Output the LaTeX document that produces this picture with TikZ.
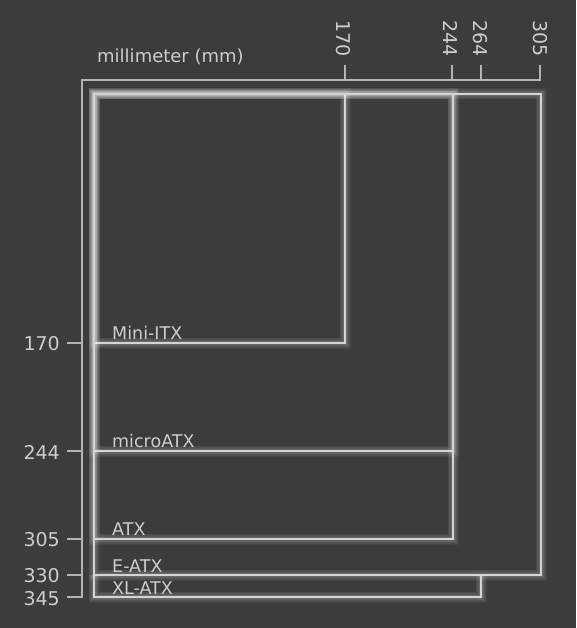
\documentclass[tikz,border=0pt]{standalone}
\usepackage{fontspec}
\setmainfont{DejaVu Sans}
\definecolor{bg}{HTML}{3C3C3C}
\definecolor{axiscol}{HTML}{B4B4B4}
\definecolor{txtcol}{HTML}{CDCDCD}
\definecolor{corecol}{HTML}{D4D4D4}
\begin{document}
\begin{tikzpicture}[x=1pt,y=-1pt,
  axisline/.style={draw=axiscol,line width=2pt},
  glowlayer/.style={preaction={draw=white,draw opacity=0.045,line width=#1}},
  board/.style={draw=corecol,line width=2.6pt,
    glowlayer=11pt,glowlayer=9.5pt,glowlayer=8pt,glowlayer=6.5pt,glowlayer=5pt,glowlayer=3.8pt},
  numlbl/.style={text=txtcol,inner sep=0pt,font=\fontsize{19}{22}\selectfont},
  toplbl/.style={numlbl,rotate=-90,anchor=east},
  leftlbl/.style={numlbl,anchor=east},
  boardlbl/.style={text=txtcol,inner sep=0pt,anchor=base west,font=\fontsize{17.5}{20}\selectfont}]
\fill[bg] (0,0) rectangle (576,628);
\useasboundingbox (0,0) rectangle (576,628);
% axes
\draw[axisline] (344.5,65) -- (344.5,80);
\draw[axisline] (452,65) -- (452,80);
\draw[axisline] (481,65) -- (481,80);
\draw[axisline] (67,343) -- (82,343);
\draw[axisline] (67,451) -- (82,451);
\draw[axisline] (67,539) -- (82,539);
\draw[axisline] (67,575) -- (82,575);
\draw[axisline,line join=miter] (540,65) -- (540,80) -- (82,80) -- (82,597) -- (67,597);
% boards
\draw[board] (94,94) rectangle (345,343);
\draw[board] (94,94) rectangle (453,451);
\draw[board] (94,94) rectangle (453,539);
\draw[board] (94,94) rectangle (541,575);
\draw[board] (94,575) -- (94,597) -- (481,597) -- (481,575);
% labels
\node[boardlbl,font=\fontsize{18}{20}\selectfont] (unit) at (97,63) {millimeter (mm)};
\node[toplbl] (t170) at (343.5,57) {170};
\node[toplbl] (t244) at (450.5,57) {244};
\node[toplbl] (t264) at (480,57) {264};
\node[toplbl] (t305) at (540,57) {305};
\node[leftlbl] (l170) at (60,344) {170};
\node[leftlbl] (l244) at (60,452) {244};
\node[leftlbl] (l305) at (60,540) {305};
\node[leftlbl] (l330) at (60,576) {330};
\node[leftlbl] (l345) at (60,599) {345};
\node[boardlbl] (miniitx) at (112,339) {Mini-ITX};
\node[boardlbl] (microatx) at (112,447) {microATX};
\node[boardlbl] (atx) at (112,535) {ATX};
\node[boardlbl] (eatx) at (112,572) {E-ATX};
\node[boardlbl] (xlatx) at (112,594) {XL-ATX};
\end{tikzpicture}
\end{document}
